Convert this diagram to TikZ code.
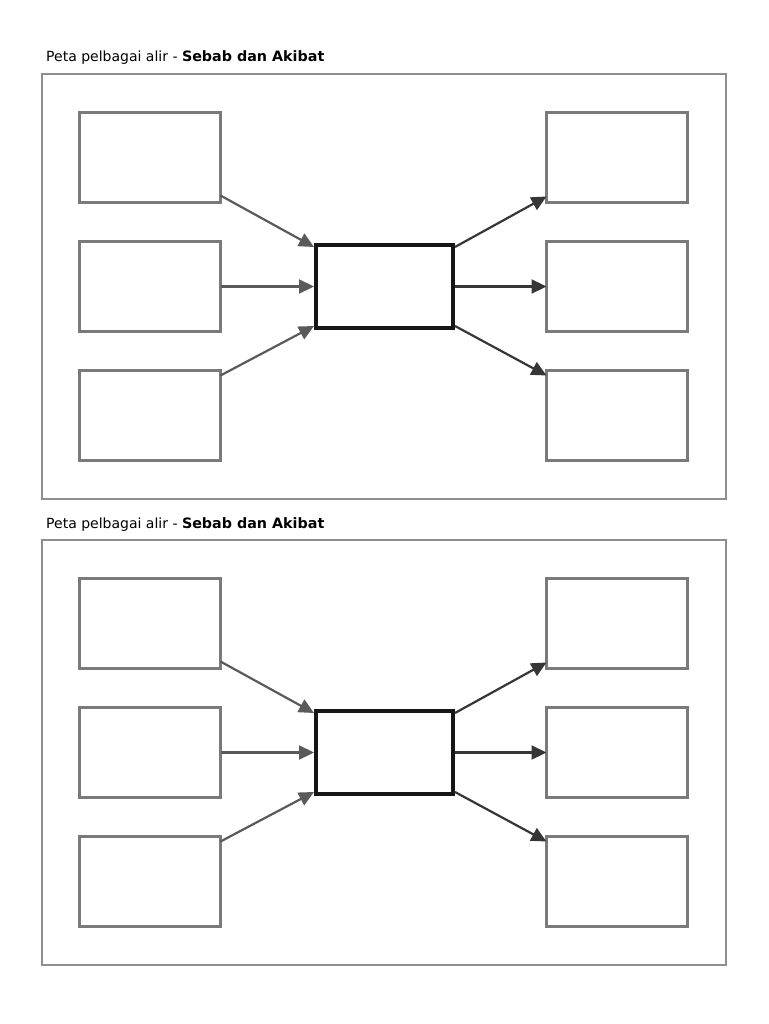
\documentclass[tikz,border=0pt]{standalone}
\usepackage{fontspec}
\setmainfont{DejaVu Sans}
\usetikzlibrary{arrows.meta,calc}
\definecolor{framegray}{HTML}{8E8E8E}
\definecolor{boxgray}{HTML}{7A7A7A}
\definecolor{inarrow}{HTML}{5A5A5A}
\definecolor{outarrow}{HTML}{363636}
\definecolor{centerblack}{HTML}{161616}
\tikzset{
  panelframe/.style={draw=framegray,line width=2pt},
  sidebox/.style={draw=boxgray,line width=2.4pt,minimum width=141pt,minimum height=90pt,inner sep=0pt,outer sep=0pt},
  centerbox/.style={draw=centerblack,line width=4.5pt,minimum width=137pt,minimum height=83pt,inner sep=0pt,outer sep=0pt},
  inconn/.style={draw=inarrow,line width=2.2pt,-{Triangle[length=15pt,width=14pt]}},
  outconn/.style={draw=outarrow,line width=2.2pt,-{Triangle[length=15pt,width=14pt]}},
  titletext/.style={anchor=base west,inner sep=0pt,text=black}
}
\begin{document}
\begin{tikzpicture}[x=1pt,y=-1pt]
\useasboundingbox[fill=white] (0,0) rectangle (768,1024);
\foreach \p in {0,1}{
\begin{scope}[shift={(0,466*\p)}]
  \node[titletext] (T\p) at (46,62) {{\fontsize{14}{16}\selectfont Peta pelbagai alir - }{\fontsize{14.3}{16}\selectfont\bfseries Sebab dan Akibat}};
  \node[panelframe,minimum width=684pt,minimum height=425pt,inner sep=0pt] (F\p) at (383.5,286.5) {};
  \node[sidebox] (L1\p) at (150,157.5) {};
  \node[sidebox] (L2\p) at (150,286.5) {};
  \node[sidebox] (L3\p) at (150,415.5) {};
  \node[sidebox] (R1\p) at (617,157.5) {};
  \node[sidebox] (R2\p) at (617,286.5) {};
  \node[sidebox] (R3\p) at (617,415.5) {};
  \node[centerbox] (C\p) at (384.5,286.5) {};
  \draw[inconn] ($(L1\p.south east)+(0,-7)$) -- ($(C\p.north west)+(-2,2)$);
  \draw[inconn] (L2\p.east) -- ($(C\p.west)+(-2,0)$);
  \draw[inconn] ($(L3\p.north east)+(0,5)$) -- ($(C\p.south west)+(-2,-2)$);
  \draw[outconn] ($(C\p.north east)+(2,2)$) -- ($(R1\p.south west)+(0,-6)$);
  \draw[outconn] ($(C\p.east)+(2,0)$) -- (R2\p.west);
  \draw[outconn] ($(C\p.south east)+(2,-2)$) -- ($(R3\p.north west)+(0,5)$);
\end{scope}
}
\end{tikzpicture}
\end{document}
